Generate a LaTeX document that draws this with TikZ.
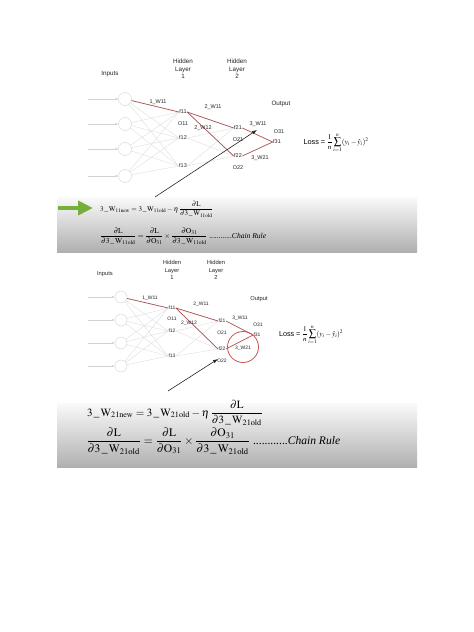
\documentclass[tikz,border=0pt]{standalone}
\usepackage{mathptmx}
\usepackage{fontspec}
\setmainfont{Liberation Serif}
\setsansfont{Liberation Sans}
\usetikzlibrary{arrows.meta}
\definecolor{redline}{RGB}{172,82,82}
\definecolor{redcirc}{RGB}{205,85,80}
\definecolor{greenarr}{RGB}{118,176,58}
\tikzset{
  incirc/.style={circle, draw=gray!35, fill=white, minimum size=13bp, inner sep=0pt},
  incircB/.style={incirc, minimum size=12bp},
  inarr/.style={draw=gray!35, line width=0.4bp, -{Latex[length=3bp,width=2.5bp]}},
  faint/.style={draw=gray!25, line width=0.4bp},
  redw/.style={draw=redline, line width=0.7bp},
  lblT/.style={font=\sffamily\fontsize{5.5}{6}\selectfont, inner sep=0.3bp, text=black!85},
  lblB/.style={font=\sffamily\fontsize{5}{5.5}\selectfont, inner sep=0.3bp, text=black!85},
  hdrT/.style={font=\sffamily\fontsize{6.3}{7.6}\selectfont, align=center, inner sep=0pt, text=black!85},
  hdrB/.style={font=\sffamily\fontsize{5.8}{7.6}\selectfont, align=center, inner sep=0pt, text=black!85},
  ptr/.style={draw=black!85, line width=0.6bp, -{Latex[length=5bp,width=3.5bp]}},
  panel/.style={top color=gray!4, bottom color=gray!62, draw=none},
  greenptr/.style={draw=greenarr, line width=4bp, -{Triangle[length=15bp,width=14bp]}},
  eqnode/.style={anchor=west, inner sep=0pt},
}
\begin{document}
\begin{tikzpicture}[x=1bp,y=-1bp]
\useasboundingbox[fill=white] (0,0) rectangle (474,632);

% ================= TOP PANEL =================
\shade[panel] (57,197) rectangle (417,252);

\node[hdrT] (tinputs) at (110,74) {Inputs};
\node[hdrT] (thl1) at (183,69) {Hidden\\Layer\\1};
\node[hdrT] (thl2) at (237,69) {Hidden\\Layer\\2};
\node[hdrT] (toutput) at (281,104) {Output};

\foreach \i/\y in {1/99,2/124,3/149,4/176}{
  \node[incirc] (ti\i) at (125,\y) {};
  \coordinate (ta\i) at (88,\y);
  \draw[inarr] (ta\i) -- (ti\i);
}

\node[lblT] (tf11) at (183,112) {f11};
\node[lblT] (tO11) at (183,124) {O11};
\node[lblT] (tf12) at (183,138) {f12};
\node[lblT] (tf13) at (183,166) {f13};

\node[lblT] (tf21) at (238,128) {f21};
\node[lblT] (tO21) at (238,140) {O21};
\node[lblT] (tf22) at (238,156) {f22};
\node[lblT] (tO22) at (238,168) {O22};

\node[lblT] (tO31) at (279,132) {O31};
\node[lblT] (tf31) at (277,142) {f31};

\foreach \i in {1,...,4}{
  \foreach \h in {tf11,tf12,tf13}{
    \draw[faint] (ti\i) -- (\h.west);
  }
}
\foreach \a in {tf11,tf12,tf13}{
  \foreach \b in {tf21,tf22}{
    \draw[faint] (\a.east) -- (\b.west);
  }
}

\draw[redw] (ti1) -- (tf11.west);
\draw[redw] (tf11.east) -- (tf21.west);
\draw[redw] (tf11.east) -- (tf22.west);
\draw[redw] (tf21.east) -- (tf31.west);
\draw[redw] (tf22.east) -- (tf31.west);

\node[lblT] (tw1) at (158,102) {1\_W11};
\node[lblT] (tw2a) at (213,107) {2\_W11};
\node[lblT] (tw2b) at (203,128) {2\_W12};
\node[lblT] (tw3a) at (258,124) {3\_W11};
\node[lblT] (tw3b) at (260,158) {3\_W21};

\coordinate (tps) at (155,197);
\coordinate (tpe) at (257,130);
\draw[ptr] (tps) -- (tpe);

\node[inner sep=0pt] (tloss) at (336,143) {\resizebox{65bp}{!}{\textsf{Loss =} $\displaystyle\frac{1}{n}\sum_{i=1}^{n}(y_i-\hat{y}_i)^2$}};

\coordinate (tgs) at (58,208);
\coordinate (tge) at (93,208);
\draw[greenptr] (tgs) -- (tge);

\node[eqnode] (teq1) at (100,209) {\resizebox{113bp}{!}{$\displaystyle 3\,\_\,\mathrm{W}_{11\mathrm{new}} = 3\,\_\,\mathrm{W}_{11\mathrm{old}} - \eta\,\frac{\partial\mathrm{L}}{\partial 3\,\_\,\mathrm{W}_{11\mathrm{old}}}$}};
\node[eqnode] (teq2) at (100,236) {\resizebox{166bp}{!}{$\displaystyle\frac{\partial\mathrm{L}}{\partial 3\,\_\,\mathrm{W}_{11\mathrm{old}}} = \frac{\partial\mathrm{L}}{\partial\mathrm{O}_{31}}\times\frac{\partial\mathrm{O}_{31}}{\partial 3\,\_\,\mathrm{W}_{11\mathrm{old}}}$ ............\textit{Chain Rule}}};

% ================= BOTTOM PANEL =================
\shade[panel] (57,403) rectangle (417,467);

\node[hdrB] (binputs) at (105,274) {Inputs};
\node[hdrB] (bhl1) at (172,270) {Hidden\\Layer\\1};
\node[hdrB] (bhl2) at (216,270) {Hidden\\Layer\\2};
\node[hdrB] (boutput) at (259,299) {Output};

\foreach \i/\y in {1/297,2/320,3/343,4/366}{
  \node[incircB] (bi\i) at (121,\y) {};
  \coordinate (ba\i) at (88,\y);
  \draw[inarr] (ba\i) -- (bi\i);
}

\node[lblB] (bf11) at (172,308) {f11};
\node[lblB] (bO11) at (172,319) {O11};
\node[lblB] (bf12) at (172,331) {f12};
\node[lblB] (bf13) at (172,356) {f13};

\node[lblB] (bf21) at (222,321) {f21};
\node[lblB] (bO21) at (222,333) {O21};
\node[lblB] (bf22) at (222,349) {f22};
\node[lblB] (bO22) at (222,361) {O22};

\node[lblB] (bO31) at (258,325) {O31};
\node[lblB] (bf31) at (257,335) {f31};

\foreach \i in {1,...,4}{
  \foreach \h in {bf11,bf12,bf13}{
    \draw[faint] (bi\i) -- (\h.west);
  }
}
\foreach \a in {bf11,bf12,bf13}{
  \foreach \b in {bf21,bf22}{
    \draw[faint] (\a.east) -- (\b.west);
  }
}

\draw[redw] (bi1) -- (bf11.west);
\draw[redw] (bf11.east) -- (bf21.west);
\draw[redw] (bf11.east) -- (bf22.west);
\draw[redw] (bf21.east) -- (bf31.west);
\draw[redw] (bf22.east) -- (bf31.west);

\node[lblB] (bw1) at (150,298) {1\_W11};
\node[lblB] (bw2a) at (201,304) {2\_W11};
\node[lblB] (bw2b) at (189,323) {2\_W12};
\node[lblB] (bw3a) at (240,318) {3\_W11};
\node[lblB] (bw3b) at (243,348) {3\_W21};

\node[circle, draw=redcirc, line width=0.8bp, minimum size=31bp, inner sep=0pt] (bcirc) at (243,347) {};

\coordinate (bps) at (168,391);
\coordinate (bpe) at (218,359);
\draw[ptr] (bps) -- (bpe);

\node[inner sep=0pt] (bloss) at (311,335) {\resizebox{64bp}{!}{\textsf{Loss =} $\displaystyle\frac{1}{n}\sum_{i=1}^{n}(y_i-\hat{y}_i)^2$}};

\node[eqnode] (beq1) at (87,413) {\resizebox{176bp}{!}{$\displaystyle 3\,\_\,\mathrm{W}_{21\mathrm{new}} = 3\,\_\,\mathrm{W}_{21\mathrm{old}} - \eta\,\frac{\partial\mathrm{L}}{\partial 3\,\_\,\mathrm{W}_{21\mathrm{old}}}$}};
\node[eqnode] (beq2) at (86,441) {\resizebox{254bp}{!}{$\displaystyle\frac{\partial\mathrm{L}}{\partial 3\,\_\,\mathrm{W}_{21\mathrm{old}}} = \frac{\partial\mathrm{L}}{\partial\mathrm{O}_{31}}\times\frac{\partial\mathrm{O}_{31}}{\partial 3\,\_\,\mathrm{W}_{21\mathrm{old}}}$ ............\textit{Chain Rule}}};

\end{tikzpicture}
\end{document}
